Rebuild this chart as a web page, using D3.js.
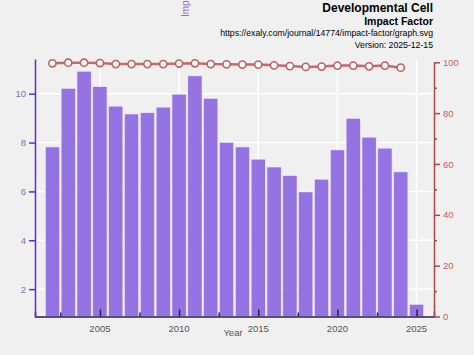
<!DOCTYPE html>
<html><head><meta charset="utf-8">
<script src="https://cdn.jsdelivr.net/npm/d3@7"></script>
<style>body{margin:0;background:#f0f0f0;}svg{display:block;font-family:"Liberation Sans",Arial,sans-serif;}</style>
</head><body>
<svg id="c" width="474" height="355"></svg>
<script>
const years = [2002,2003,2004,2005,2006,2007,2008,2009,2010,2011,2012,2013,2014,2015,2016,2017,2018,2019,2020,2021,2022,2023,2024,2025];
const impactFactor = [7.82,10.22,10.92,10.29,9.49,9.17,9.22,9.45,9.98,10.73,9.81,8.01,7.82,7.32,7.0,6.65,5.98,6.5,7.7,8.99,8.22,7.77,6.8,1.38];
const lineYears = [2002,2003,2004,2005,2006,2007,2008,2009,2010,2011,2012,2013,2014,2015,2016,2017,2018,2019,2020,2021,2022,2023,2024];
const percentile = [99.6,99.85,99.85,99.7,99.3,99.3,99.3,99.3,99.5,99.6,99.3,99.2,99.1,99.1,98.8,98.5,98.2,98.3,98.7,98.7,98.4,98.7,97.9];
const xTicks = [2005,2010,2015,2020,2025];
const leftTicks = [2,4,6,8,10];
const rightTicks = [0,20,40,60,80,100];

const svg = d3.select("#c");
const L = 35, R = 434, T = 59, B = 316.5;
const x = d3.scaleLinear().domain([2000.9, 2026.1]).range([L, R]);
const yL = d3.scaleLinear().domain([d3.min(impactFactor)-0.5, d3.max(impactFactor)+0.5]).range([B, T]);
const yR = d3.scaleLinear().domain([0, 100]).range([B, 62.3]);

svg.append("rect").attr("width",474).attr("height",355).attr("fill","#f0f0f0");

// grid
const g = svg.append("g");
g.selectAll("line.h").data(leftTicks).join("line")
  .attr("x1",L).attr("x2",R).attr("y1",d=>yL(d)).attr("y2",d=>yL(d))
  .attr("stroke","#ffffff").attr("stroke-width",1.5);
g.selectAll("line.v").data(xTicks).join("line")
  .attr("y1",T).attr("y2",B).attr("x1",d=>x(d)).attr("x2",d=>x(d))
  .attr("stroke","#ffffff").attr("stroke-width",1.5);

// bars
svg.append("g").selectAll("rect").data(years).join("rect")
  .attr("x",(d)=>x(d-0.45)).attr("width",x(2000.9+0.9)-x(2000.9))
  .attr("y",(d,i)=>yL(impactFactor[i])).attr("height",(d,i)=>B-yL(impactFactor[i]))
  .attr("fill","#9673e3").attr("stroke","#f4eef8").attr("stroke-width",0.6);

// bottom axis
const xAxis = svg.append("g").attr("transform",`translate(0,${B})`)
  .call(d3.axisBottom(x).tickValues(d3.range(2002.5,2026,2.5)).tickSize(-5).tickFormat(""));
xAxis.select(".domain").attr("stroke","#2a1f4a").attr("stroke-width",1.5);
xAxis.selectAll(".tick line").attr("stroke","#2a1f4a").attr("stroke-width",1.5)
  .attr("y2",d=> (d%5===0)?-7:-4);
svg.append("g").selectAll("text").data(xTicks).join("text")
  .attr("x",d=>x(d)).attr("y",332).attr("text-anchor","middle")
  .attr("font-size",9.5).attr("fill","#555").text(d=>d);
svg.append("text").attr("x",233).attr("y",336).attr("text-anchor","middle")
  .attr("font-size",9.5).attr("fill","#555").text("Year");

// left axis
const yAx = svg.append("g").attr("transform",`translate(${L},0)`)
  .call(d3.axisLeft(yL).tickValues(leftTicks).tickSize(6).tickSizeOuter(0));
yAx.select(".domain").attr("stroke","#5a2ed0").attr("stroke-width",1.5);
yAx.selectAll(".tick line").attr("stroke","#5a2ed0").attr("stroke-width",1.5);
yAx.selectAll(".tick text").attr("fill","#7d6cb5").attr("font-size",9.5).attr("font-family","Liberation Sans, Arial, sans-serif");
svg.append("text").attr("transform","translate(189,17) rotate(-90)")
  .attr("font-size",10).attr("fill","#8a66e0").text("Impact Factor");

// right axis
const yRAx = svg.append("g").attr("transform",`translate(${R},0)`)
  .call(d3.axisRight(yR).tickValues(d3.range(0,101,10)).tickSize(6).tickSizeOuter(0)
    .tickFormat(d=> rightTicks.includes(d)? d : ""));
yRAx.select(".domain").attr("stroke","#a84848").attr("stroke-width",1.5);
yRAx.selectAll(".tick line").attr("stroke","#a84848").attr("stroke-width",1.5)
  .attr("x2",d=> rightTicks.includes(d)?6:3);
yRAx.selectAll(".tick text").attr("fill","#c86060").attr("font-size",9.5).attr("font-family","Liberation Sans, Arial, sans-serif");

// line
svg.append("path").datum(lineYears)
  .attr("d", d3.line().x(d=>x(d)).y((d,i)=>yR(percentile[i])))
  .attr("fill","none").attr("stroke","#c46a6a").attr("stroke-width",2.5);
svg.append("g").selectAll("circle").data(lineYears).join("circle")
  .attr("cx",d=>x(d)).attr("cy",(d,i)=>yR(percentile[i])).attr("r",3.6)
  .attr("fill","#ffffff").attr("stroke","#c06060").attr("stroke-width",1.6);

// titles
const tg = svg.append("g").attr("text-anchor","end").attr("fill","#000");
tg.append("text").attr("x",433).attr("y",12).attr("font-size",12).attr("font-weight","bold").text("Developmental Cell");
tg.append("text").attr("x",433).attr("y",24.5).attr("font-size",10.5).attr("font-weight","bold").text("Impact Factor");
tg.append("text").attr("x",433).attr("y",36).attr("font-size",8.7).text("https://exaly.com/journal/14774/impact-factor/graph.svg");
tg.append("text").attr("x",433).attr("y",47.5).attr("font-size",8.7).text("Version: 2025-12-15");
</script>
</body></html>
